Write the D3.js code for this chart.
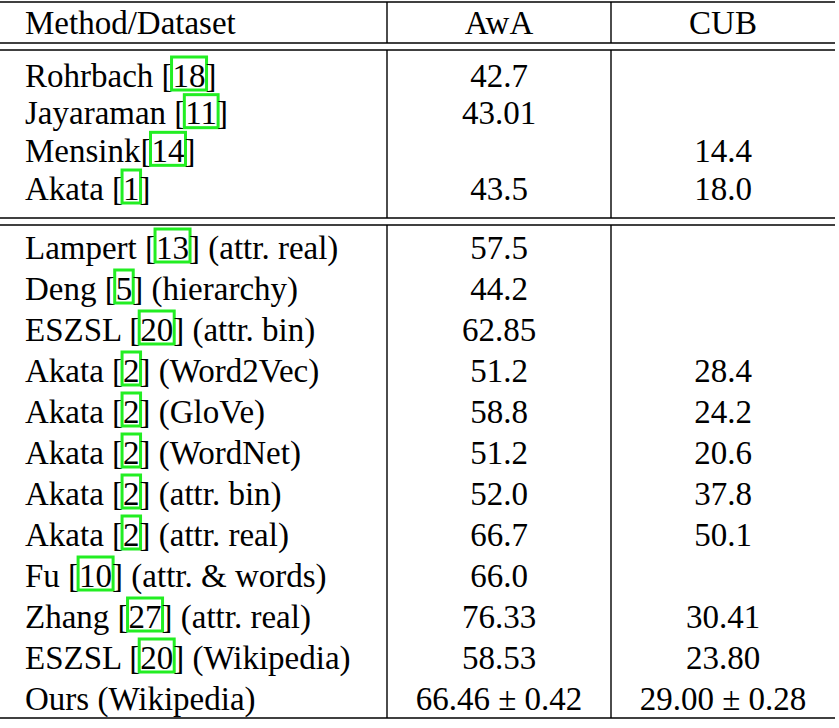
<!DOCTYPE html>
<html><head><meta charset="utf-8">
<script src="https://cdn.jsdelivr.net/npm/d3@7"></script>
<style>body{margin:0;background:#fff}</style></head>
<body><svg id="t" width="839" height="728"></svg>
<script>
// label parts: [before, citation, after]
var methods = [
  ['Rohrbach [', '18', ']'], ['Jayaraman [', '11', ']'], ['Mensink[', '14', ']'], ['Akata [', '1', ']'],
  ['Lampert [', '13', '] (attr. real)'], ['Deng [', '5', '] (hierarchy)'], ['ESZSL [', '20', '] (attr. bin)'],
  ['Akata [', '2', '] (Word2Vec)'], ['Akata [', '2', '] (GloVe)'], ['Akata [', '2', '] (WordNet)'],
  ['Akata [', '2', '] (attr. bin)'], ['Akata [', '2', '] (attr. real)'], ['Fu [', '10', '] (attr. & words)'],
  ['Zhang [', '27', '] (attr. real)'], ['ESZSL [', '20', '] (Wikipedia)'], ['Ours (Wikipedia)', '', '']
];
var awa = ['42.7', '43.01', '', '43.5', '57.5', '44.2', '62.85', '51.2', '58.8', '51.2', '52.0', '66.7', '66.0', '76.33', '58.53', '66.46 \u00b1 0.42'];
var cub = ['', '', '14.4', '18.0', '', '', '', '28.4', '24.2', '20.6', '37.8', '50.1', '', '30.41', '23.80', '29.00 \u00b1 0.28'];
var headers = ['Method/Dataset', 'AwA', 'CUB'];

var svg = d3.select('#t');
var font = '"Liberation Serif", "DejaVu Serif", serif';
var fs = 33;
var x0 = 25, c1 = 387, c2 = 611, right = 835;

// row centres: top group 38px apart, bottom group 41px
var yRow = d3.scaleLinear().domain([0, 3]).range([75, 188]);
var yRow2 = d3.scaleLinear().domain([4, 15]).range([247, 698]);
function yc(i) { return i < 4 ? yRow(i) : yRow2(i); }

function hline(y) { svg.append('line').attr('x1', 0).attr('x2', right).attr('y1', y).attr('y2', y).attr('stroke', '#000').attr('stroke-width', 1.6); }
hline(2); hline(43); hline(50); hline(218); hline(225); hline(718);
[[c1, 2, 43], [c2, 2, 43], [c1, 50, 218], [c2, 50, 218], [c1, 225, 718], [c2, 225, 718]].forEach(function (v) {
  svg.append('line').attr('x1', v[0]).attr('x2', v[0]).attr('y1', v[1]).attr('y2', v[2]).attr('stroke', '#000').attr('stroke-width', 1.4);
});

function txt(x, y, s, anchor) {
  return svg.append('text').attr('x', x).attr('y', y).attr('dy', '0.35em').attr('text-anchor', anchor || 'start')
    .attr('font-family', font).attr('font-size', fs).attr('fill', '#000').text(s);
}

txt(x0, 22, headers[0]);
txt((c1 + c2) / 2, 22, headers[1], 'middle');
txt((c2 + right) / 2, 22, headers[2], 'middle');

methods.forEach(function (m, i) {
  var y = yc(i), x = x0;
  var a = txt(x, y, m[0]);
  x += a.node().getComputedTextLength();
  if (m[1]) {
    var b = txt(x, y, m[1]);
    var w = b.node().getComputedTextLength();
    svg.append('rect').attr('x', x - 1).attr('y', y - 18).attr('width', w + 2).attr('height', 33)
      .attr('fill', 'none').attr('stroke', '#22ee22').attr('stroke-width', 3);
    x += w;
    txt(x, y, m[2]);
  }
  if (awa[i]) txt((c1 + c2) / 2, y, awa[i], 'middle');
  if (cub[i]) txt((c2 + right) / 2, y, cub[i], 'middle');
});
</script></body></html>
